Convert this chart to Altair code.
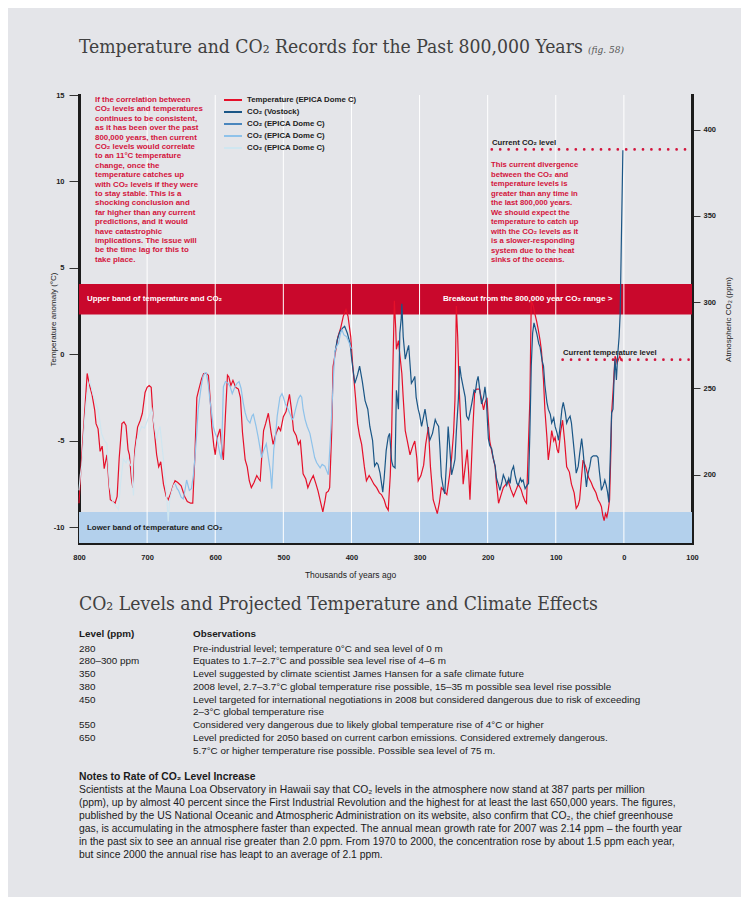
import altair as alt
import pandas as pd

# ---------------- data ----------------
temp_kyr = [800, 797, 792, 788, 785, 781, 777, 775, 772, 769, 766, 763, 759, 756, 754, 750, 747, 744, 741, 737,
            734, 731, 728, 726, 723, 721, 718, 714, 710, 707, 703, 700, 697, 694, 691, 689, 686, 683, 680, 676,
            672, 669, 665, 662, 659, 655, 650, 645, 641, 636, 633, 630, 627, 624, 620, 617, 613, 610, 607, 605,
            602, 600, 597, 593, 590, 588, 585, 582, 580, 577, 574, 570, 566, 563, 560, 556, 553, 550, 547, 543,
            539, 536, 534, 531, 529, 526, 522, 518, 515, 511, 507, 504, 500, 496, 491, 488, 485, 481, 478, 475,
            471, 467, 464, 460, 456, 452, 449, 445, 442, 439, 437, 434, 432, 429, 427, 424, 420, 416, 412, 408,
            405, 401, 398, 394, 391, 388, 385, 381, 378, 374, 371, 367, 363, 359, 356, 352, 349, 346, 343, 341,
            339, 337, 335, 334, 331, 329, 326, 324, 321, 318, 314, 310, 307, 304, 302, 298, 294, 291, 287, 284,
            280, 277, 274, 271, 268, 264, 260, 256, 253, 250, 248, 246, 244, 242, 239, 236, 233, 230, 228, 226,
            222, 219, 216, 212, 209, 206, 204, 201, 199, 197, 193, 189, 187, 184, 181, 177, 173, 170, 166, 162,
            159, 155, 151, 148, 145, 143, 140, 138, 136, 133, 131, 128, 126, 123, 121, 118, 116, 113, 111, 108,
            106, 103, 101, 98, 96, 93, 90, 87, 84, 80, 77, 73, 70, 67, 65, 62, 60, 56, 52, 48,
            45, 41, 38, 35, 33, 31, 29, 27, 25, 23, 21, 19, 18, 16, 14, 13, 11, 10, 8, 6,
            4, 2]
temp_val = [-8.6, -6.5, -3.5, -1.1, -1.7, -2.3, -3.2, -4.0, -4.3, -5.6, -5.3, -6.6, -5.8, -7.5, -8.4, -8.5, -8.6, -8.2, -6.0, -4.0,
            -3.9, -4.1, -5.5, -5.8, -7.2, -7.7, -5.5, -4.2, -3.8, -3.4, -2.2, -1.9, -1.8, -1.9, -3.8, -4.6, -5.8, -6.5, -6.2, -7.5,
            -8.2, -8.4, -8.0, -7.6, -7.3, -7.4, -7.6, -8.2, -8.5, -8.6, -8.6, -6.0, -2.5, -2.0, -1.4, -1.1, -1.1, -1.2, -2.8, -4.2,
            -5.3, -5.8, -4.8, -4.3, -5.5, -6.1, -3.5, -1.2, -1.3, -1.8, -1.5, -1.9, -2.0, -2.5, -4.5, -6.1, -6.5, -7.3, -7.7, -7.4,
            -7.0, -7.2, -7.3, -5.5, -4.4, -4.0, -3.4, -4.5, -5.2, -4.6, -4.2, -4.4, -3.6, -3.3, -2.3, -3.2, -4.4, -4.7, -5.2, -5.0,
            -6.9, -7.2, -7.7, -7.3, -7.0, -7.5, -7.9, -8.6, -9.1, -8.5, -8.0, -7.9, -7.7, -4.5, -0.7, 0.0, 1.0, 1.5, 2.2, 2.6,
            2.2, 1.0, -0.7, -2.5, -4.0, -4.7, -5.2, -6.5, -7.3, -7.0, -7.2, -7.5, -7.7, -8.0, -8.1, -8.4, -8.8, -9.0, -7.0, -4.6,
            -0.5, 3.1, 1.5, 0.3, 0.8, 0.0, -1.1, -2.5, -4.4, -5.0, -5.8, -5.3, -5.0, -6.0, -7.3, -7.0, -6.4, -5.2, -4.2, -6.5,
            -8.4, -8.8, -9.2, -8.6, -7.7, -7.9, -8.1, -7.0, -6.0, -4.5, -2.6, 2.8, 1.0, -1.8, -4.5, -7.5, -6.5, -5.5, -6.8, -8.4,
            -4.5, -2.1, -2.0, -2.0, -2.6, -3.2, -2.8, -2.5, -3.8, -5.0, -5.8, -6.5, -7.5, -8.6, -8.2, -7.7, -7.5, -7.3, -7.8, -8.2,
            -7.9, -7.5, -7.8, -8.2, -8.5, -8.6, -5.0, -2.6, 3.1, 2.8, 2.4, 1.9, 1.5, 0.8, 0.2, -1.5, -3.2, -4.8, -6.1, -5.2,
            -4.4, -5.0, -4.8, -5.5, -5.7, -4.5, -3.8, -5.0, -6.5, -6.8, -7.5, -8.0, -8.9, -8.7, -8.4, -7.0, -6.1, -6.5, -7.1, -7.4,
            -7.7, -8.0, -8.4, -8.6, -8.8, -9.3, -9.6, -9.2, -9.4, -9.0, -8.4, -5.5, -3.4, -2.2, -0.8, -0.1, -0.3, -0.5, -0.3, -0.1,
            -0.3, -0.4]

vostok_kyr = [424, 421, 417, 413, 410, 406, 402, 399, 395, 391, 388, 384, 380, 376, 373, 369, 366, 363, 361, 358,
              354, 352, 349, 346, 344, 341, 339, 336, 334, 331, 329, 327, 326, 324, 321, 318, 316, 314, 312, 309,
              307, 305, 302, 300, 297, 294, 292, 289, 285, 281, 277, 275, 272, 270, 268, 265, 263, 260, 258, 255,
              253, 250, 248, 246, 243, 241, 239, 236, 233, 231, 228, 226, 223, 220, 218, 216, 214, 211, 209, 206,
              204, 202, 199, 197, 194, 192, 189, 187, 184, 182, 179, 177, 174, 172, 169, 167, 165, 162, 160, 157,
              155, 152, 150, 148, 145, 142, 140, 138, 136, 134, 132, 130, 128, 125, 123, 120, 118, 116, 113, 111,
              108, 106, 103, 101, 98, 96, 93, 91, 89, 86, 84, 82, 79, 77, 75, 72, 70, 67, 65, 62,
              60, 58, 55, 53, 50, 48, 45, 42, 40, 38, 36, 34, 33, 30, 28, 26, 24, 22, 20, 18,
              16, 14, 13, 11, 9, 7, 5.5, 1.5]
vostok_ppm = [271, 278, 283, 285, 286, 282, 276, 265, 253, 258, 263, 254, 243, 238, 228, 220, 205, 207, 206, 201,
              190, 198, 214, 222, 224, 208, 205, 204, 249, 238, 282, 290, 299, 280, 267, 272, 275, 264, 253, 255,
              257, 245, 238, 235, 228, 234, 238, 230, 220, 224, 232, 230, 228, 215, 199, 192, 189, 210, 228, 212,
              200, 205, 209, 225, 244, 263, 257, 251, 245, 234, 232, 236, 242, 249, 248, 254, 257, 247, 241, 245,
              251, 244, 221, 217, 215, 210, 205, 198, 194, 191, 196, 200, 197, 194, 198, 195, 202, 205, 200, 195,
              194, 198, 196, 197, 192, 194, 195, 225, 263, 282, 288, 285, 282, 276, 274, 266, 263, 252, 242, 238,
              235, 230, 233, 228, 224, 220, 230, 238, 242, 236, 230, 232, 234, 230, 222, 210, 201, 205, 212, 221,
              214, 205, 193, 200, 205, 210, 211, 211, 211, 210, 202, 195, 191, 194, 197, 194, 190, 184, 210, 236,
              238, 260, 267, 255, 270, 280, 293, 388]

epica_light_kyr = [659, 656, 654, 650, 647, 644, 642, 638, 635, 632, 630, 627, 625, 621, 618, 615, 613, 610, 608, 605,
                   603, 600, 598, 595, 593, 591, 588, 585, 581, 578, 575, 572, 568, 565, 562, 559, 556, 553, 549, 546,
                   544, 540, 537, 534, 532, 529, 525, 522, 519, 517, 514, 512, 509, 505, 502, 500, 497, 493, 490, 487,
                   485, 482, 478, 475, 473, 471, 468, 465, 461, 458, 454, 451, 446, 443, 439, 436, 434, 431, 429, 426,
                   424, 421, 419, 416, 414, 411, 407, 404, 400]
epica_light_ppm = [195, 192, 191, 187, 186, 192, 197, 191, 192, 200, 209, 225, 238, 250, 257, 259, 259, 252, 244, 235,
                   228, 224, 222, 216, 212, 209, 251, 254, 253, 251, 247, 250, 253, 254, 250, 242, 236, 232, 230, 234,
                   235, 228, 222, 215, 210, 214, 218, 210, 202, 192, 215, 220, 234, 245, 247, 245, 241, 238, 235, 232,
                   233, 238, 244, 246, 245, 238, 232, 228, 224, 218, 210, 207, 204, 206, 205, 202, 200, 220, 236, 260,
                   272, 275, 276, 282, 284, 281, 280, 277, 273]

epica_pale_kyr = [800, 798, 796, 792, 789, 786, 784, 781, 779, 775, 772, 769, 767, 763, 759, 757, 755, 752, 750, 746,
                  742, 739, 735, 731, 728, 725, 723, 720, 718, 715, 712, 708, 704, 701, 697, 693, 690, 686, 684, 681,
                  679, 676, 673, 671, 669, 667, 664, 661, 659]
epica_pale_ppm = [191, 200, 205, 230, 244, 252, 255, 249, 246, 241, 238, 230, 224, 220, 218, 205, 193, 188, 184, 182,
                  180, 195, 209, 207, 210, 206, 205, 188, 210, 220, 224, 228, 227, 230, 234, 238, 230, 220, 225, 228,
                  220, 209, 195, 186, 173, 185, 190, 194, 195]

series_names = ["Temperature (EPICA Dome C)", "CO₂ (Vostock)", "CO₂ (EPICA Dome C)",
                "CO₂ (EPICA Dome C) ", "CO₂ (EPICA Dome C)  "]
series_colors = ["#e5102a", "#1a5686", "#4a86bd", "#8ec2ea", "#cfe6f0"]

upper_band = [2.31, 4.08]
lower_band = [-10.9, -9.11]
grid_kyr = [700, 600, 500, 400, 300, 200, 100, 0]
x_ticks = [800, 700, 600, 500, 400, 300, 200, 100, 0, -100]
t_ticks = [15, 10, 5, 0, -5, -10]
c_ticks = [400, 350, 300, 250, 200]
current_co2 = 388.5
current_co2_span = [194, -100]
current_temp = -0.3
current_temp_span = [90, -95]

title_main = "Temperature and CO₂ Records for the Past 800,000 Years"
title_fig = "(fig. 58)"
title_table = "CO₂ Levels and Projected Temperature and Climate Effects"
left_note = ["If the correlation between", "CO₂ levels and temperatures", "continues to be consistent,",
             "as it has been over the past", "800,000 years, then current", "CO₂ levels would correlate",
             "to an 11°C temperature", "change, once the", "temperature catches up",
             "with CO₂ levels if they were", "to stay stable. This is a", "shocking conclusion and",
             "far higher than any current", "predictions, and it would", "have catastrophic",
             "implications. The issue will", "be the time lag for this to", "take place."]
right_note = ["This current divergence", "between the CO₂ and", "temperature levels is",
              "greater than any time in", "the last 800,000 years.", "We should expect the",
              "temperature to catch up", "with the CO₂ levels as it", "is a slower-responding",
              "system due to the heat", "sinks of the oceans."]
band_labels = ["Upper band of temperature and CO₂", "Breakout from the 800,000 year CO₂ range >",
               "Lower band of temperature and CO₂"]
level_labels = ["280", "280–300 ppm", "350", "380", "450", "550", "650"]
observations = [
    ["Pre-industrial level; temperature 0°C and sea level of 0 m"],
    ["Equates to 1.7–2.7°C and possible sea level rise of 4–6 m"],
    ["Level suggested by climate scientist James Hansen for a safe climate future"],
    ["2008 level, 2.7–3.7°C global temperature rise possible, 15–35 m possible sea level rise possible"],
    ["Level targeted for international negotiations in 2008 but considered dangerous due to risk of exceeding",
     "2–3°C global temperature rise"],
    ["Considered very dangerous due to likely global temperature rise of 4°C or higher"],
    ["Level predicted for 2050 based on current carbon emissions. Considered extremely dangerous.",
     "5.7°C or higher temperature rise possible. Possible sea level of 75 m."],
]
notes_title = "Notes to Rate of CO₂ Level Increase"
notes_lines = [
    "Scientists at the Mauna Loa Observatory in Hawaii say that CO₂ levels in the atmosphere now stand at 387 parts per million",
    "(ppm), up by almost 40 percent since the First Industrial Revolution and the highest for at least the last 650,000 years. The figures,",
    "published by the US National Oceanic and Atmospheric Administration on its website, also confirm that CO₂, the chief greenhouse",
    "gas, is accumulating in the atmosphere faster than expected. The annual mean growth rate for 2007 was 2.14 ppm – the fourth year",
    "in the past six to see an annual rise greater than 2.0 ppm. From 1970 to 2000, the concentration rose by about 1.5 ppm each year,",
    "but since 2000 the annual rise has leapt to an average of 2.1 ppm.",
]

# ---------------- styling ----------------
SANS = "Liberation Sans"
SERIF = "DejaVu Serif Condensed, DejaVu Serif"
BG = "#e4e5e9"
ANN_RED = "#d3143c"
INK = "#222222"
W, H = 613, 448

xs = alt.Scale(domain=[800, -100], nice=False, zero=False)
ts = alt.Scale(domain=[-10.9, 15], nice=False, zero=False)
cs = alt.Scale(domain=[160.5, 420], nice=False, zero=False)

xaxis = alt.Axis(values=x_ticks, labelExpr="toString(abs(datum.value))", ticks=False, grid=False,
                 domainWidth=3, domainColor="#1c1c1c", domainCap="square",
                 labelFont=SANS, labelFontSize=7.5, labelFontWeight="bold", labelColor=INK,
                 labelPadding=10, labelFlush=False,
                 title="Thousands of years ago", titleFont=SANS, titleFontSize=8.5,
                 titleFontWeight="normal", titleColor=INK, titleX=271, titleY=31,
                 titleAlign="center", titleBaseline="middle")
taxis = alt.Axis(values=t_ticks, orient="left", labelExpr="toString(datum.value)", grid=False,
                 tickSize=10, tickColor="#333333", tickWidth=1,
                 domainWidth=3, domainColor="#1c1c1c", domainCap="square",
                 labelFont=SANS, labelFontSize=7.5, labelFontWeight="bold", labelColor=INK, labelPadding=5,
                 title="Temperature anomaly (°C)", titleFont=SANS, titleFontSize=8,
                 titleFontWeight="normal", titleColor=INK, titleX=-26, titleY=H / 2, titleAngle=270,
                 titleAlign="center", titleBaseline="middle")
caxis = alt.Axis(values=c_ticks, orient="right", labelExpr="toString(datum.value)", grid=False,
                 tickSize=8, tickColor="#333333", tickWidth=1,
                 domainWidth=3, domainColor="#1c1c1c", domainCap="square",
                 labelFont=SANS, labelFontSize=7.5, labelFontWeight="bold", labelColor=INK, labelPadding=3,
                 title="Atmospheric CO₂ (ppm)", titleFont=SANS, titleFontSize=8,
                 titleFontWeight="normal", titleColor=INK, titleX=36, titleY=H / 2, titleAngle=270,
                 titleAlign="center", titleBaseline="middle")

legend = alt.Legend(orient="none", legendX=150, legendY=1, title=None, padding=0,
                    symbolType="M-3,0L3,0", symbolSize=36, symbolStrokeWidth=2,
                    labelFont=SANS, labelFontSize=7.8, labelFontWeight="bold", labelColor=INK,
                    labelOffset=10, rowPadding=4)
COLOR = alt.Color("series:N", scale=alt.Scale(domain=series_names, range=series_colors), legend=legend)

X = alt.X("kyr:Q", scale=xs, axis=xaxis)
YT = alt.Y("t:Q", scale=ts, axis=taxis)
YC = alt.Y("ppm:Q", scale=cs, axis=caxis)

# ---------------- data frames ----------------
temp_df = pd.DataFrame({"kyr": temp_kyr, "t": temp_val, "series": series_names[0]})
co2_df = pd.concat([
    pd.DataFrame({"kyr": vostok_kyr, "ppm": vostok_ppm, "series": series_names[1]}),
    pd.DataFrame({"kyr": epica_light_kyr, "ppm": epica_light_ppm, "series": series_names[3]}),
    pd.DataFrame({"kyr": epica_pale_kyr, "ppm": epica_pale_ppm, "series": series_names[4]}),
], ignore_index=True)

upper = alt.Chart(pd.DataFrame({"kyr": [800], "kyr_end": [-100], "t": [upper_band[0]], "t2": [upper_band[1]]})
                  ).mark_rect(color="#c9082c").encode(x=X, x2="kyr_end:Q", y=YT, y2="t2:Q")
lower = alt.Chart(pd.DataFrame({"kyr": [800], "kyr_end": [-100], "t": [lower_band[0]], "t2": [lower_band[1]]})
                  ).mark_rect(color="#b3d0ec").encode(x=X, x2="kyr_end:Q", y=YT, y2="t2:Q")
grid = alt.Chart(pd.DataFrame({"kyr": grid_kyr})).mark_rule(color="#ffffff", strokeWidth=1).encode(x=X)

temp_line = alt.Chart(temp_df).mark_line(strokeWidth=1.2).encode(x=X, y=YT, color=COLOR)
temp_dots = alt.Chart(pd.DataFrame({"kyr": [current_temp_span[0]], "kyr_end": [current_temp_span[1]],
                                    "t": [current_temp]})).mark_rule(
    color=ANN_RED, strokeWidth=2.6, strokeDash=[0.1, 8.3], strokeCap="round").encode(x=X, x2="kyr_end:Q", y=YT)

co2_lines = alt.Chart(co2_df).mark_line(strokeWidth=1.2).encode(x=X, y=YC, color=COLOR)
co2_dots = alt.Chart(pd.DataFrame({"kyr": [current_co2_span[0]], "kyr_end": [current_co2_span[1]],
                                   "ppm": [current_co2]})).mark_rule(
    color=ANN_RED, strokeWidth=2.6, strokeDash=[0.1, 8.3], strokeCap="round").encode(x=X, x2="kyr_end:Q", y=YC)


def text_block(text, x, y, size, color, weight="normal", font=SANS, lh=None, baseline="alphabetic",
               style="normal"):
    kw = dict(align="left", baseline=baseline, font=font, fontSize=size, color=color,
              fontWeight=weight, fontStyle=style, lineBreak="\n")
    if lh is not None:
        kw["lineHeight"] = lh
    return alt.Chart(pd.DataFrame({"txt": [text]})).mark_text(**kw).encode(
        text="txt:N", x=alt.value(x), y=alt.value(y))


TABLE_SIZE = 9.85
NOTES_SIZE = 10.35
TABLE_TOP = 556.5
TABLE_LH = 12.75
texts = [
    text_block("\n".join(left_note), 16, 7, 7.9, ANN_RED, "bold", lh=9.4),
    text_block("\n".join(right_note), 412, 72, 7.7, ANN_RED, "bold", lh=9.5),
    text_block("Current CO₂ level", 413, 49.5, 7.7, INK, "bold"),
    text_block("Current temperature level", 484, 260, 7.7, INK, "bold"),
    text_block(band_labels[0], 8, 204, 7.9, "#ffffff", "bold", baseline="middle"),
    text_block(band_labels[1], 364, 204, 8.1, "#ffffff", "bold", baseline="middle"),
    text_block(band_labels[2], 8, 433, 7.9, INK, "bold", baseline="middle"),
    text_block(title_main, 0, -42.5, 19.2, "#404040", font=SERIF),
    text_block(title_fig, 509, -42.5, 10, "#555555", font=SERIF, style="italic"),
    text_block(title_table, 0, 515, 19.2, "#404040", font=SERIF),
    text_block("Level (ppm)", 0, 541.5, TABLE_SIZE, "#1a1a1a", "bold"),
    text_block("Observations", 114, 541.5, TABLE_SIZE, "#1a1a1a", "bold"),
]

col2 = []
line_idx = 0
for lab, obs in zip(level_labels, observations):
    texts.append(text_block(lab, 0, TABLE_TOP + line_idx * TABLE_LH, TABLE_SIZE, "#1a1a1a"))
    col2.extend(obs)
    line_idx += len(obs)
texts.append(text_block("\n".join(col2), 114, TABLE_TOP, TABLE_SIZE, "#1a1a1a", lh=TABLE_LH))
texts.append(text_block(notes_title, 0, 684.5, NOTES_SIZE, "#1a1a1a", "bold"))
texts.append(text_block("\n".join(notes_lines), 0, 697.5, NOTES_SIZE, "#1a1a1a", lh=13))

layer_t = alt.layer(upper, lower, grid, temp_line, temp_dots, *texts)
layer_c = alt.layer(co2_lines, co2_dots)

chart = alt.layer(layer_t, layer_c).resolve_scale(y="independent").properties(
    width=W, height=H, background=BG,
    padding={"left": 71, "top": 87, "right": 49, "bottom": 354},
    autosize=alt.AutoSizeParams(type="none"),
).configure_view(stroke=None)

chart.save("out.html", embed_options={"renderer": "svg", "actions": False})
